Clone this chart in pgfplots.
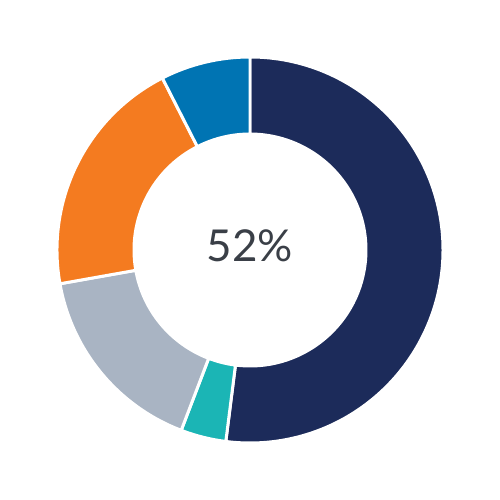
\documentclass[border=0pt]{standalone}
\usepackage{pgfplots}
\usepackage{pgfplotstable}
\pgfplotsset{compat=1.18}
\usepackage{fontspec}
\setmainfont{Lato}
\definecolor{cnavy}{HTML}{1C2B5A}
\definecolor{cteal}{HTML}{1BB5B5}
\definecolor{cgray}{HTML}{A9B4C3}
\definecolor{corange}{HTML}{F47B20}
\definecolor{cblue}{HTML}{0074B3}
\definecolor{ctext}{HTML}{3A3F47}
\pgfplotstableread{
label value color
A 52.0 cnavy
B 3.8 cteal
C 16.4 cgray
D 20.3 corange
E 7.5 cblue
}\datatable
\begin{document}
\begin{tikzpicture}
\begin{axis}[
  width=10cm, height=10cm, scale only axis,
  xmin=-250, xmax=250, ymin=-250, ymax=250,
  hide axis, clip=false,
]
\path (axis cs:-250,-250) rectangle (axis cs:250,250);
\pgfplotstablegetrowsof{\datatable}
\pgfmathtruncatemacro{\nrows}{\pgfplotsretval-1}
\def\cum{0}
\pgfplotsforeachungrouped \i in {0,...,\nrows}{
  \pgfplotstablegetelem{\i}{value}\of{\datatable}
  \let\val\pgfplotsretval
  \pgfplotstablegetelem{\i}{color}\of{\datatable}
  \let\col\pgfplotsretval
  \pgfmathsetmacro{\aA}{90-3.6*\cum}
  \pgfmathsetmacro{\aB}{90-3.6*(\cum+\val)}
  \pgfmathsetmacro{\newcum}{\cum+\val}
  \global\let\cum\newcum
  \edef\temp{\noexpand\filldraw[fill=\col, draw=white, line width=1.7pt, line join=miter]
    (axis cs:{193*cos(\aA)},{193*sin(\aA)}) arc[start angle=\aA, end angle=\aB, radius=193]
    -- (axis cs:{116*cos(\aB)},{116*sin(\aB)}) arc[start angle=\aB, end angle=\aA, radius=116] -- cycle;}
  \temp
}
\node[text=ctext, font=\fontsize{25}{30}\selectfont] at (axis cs:0,4) {52\%};
\end{axis}
\end{tikzpicture}
\end{document}
